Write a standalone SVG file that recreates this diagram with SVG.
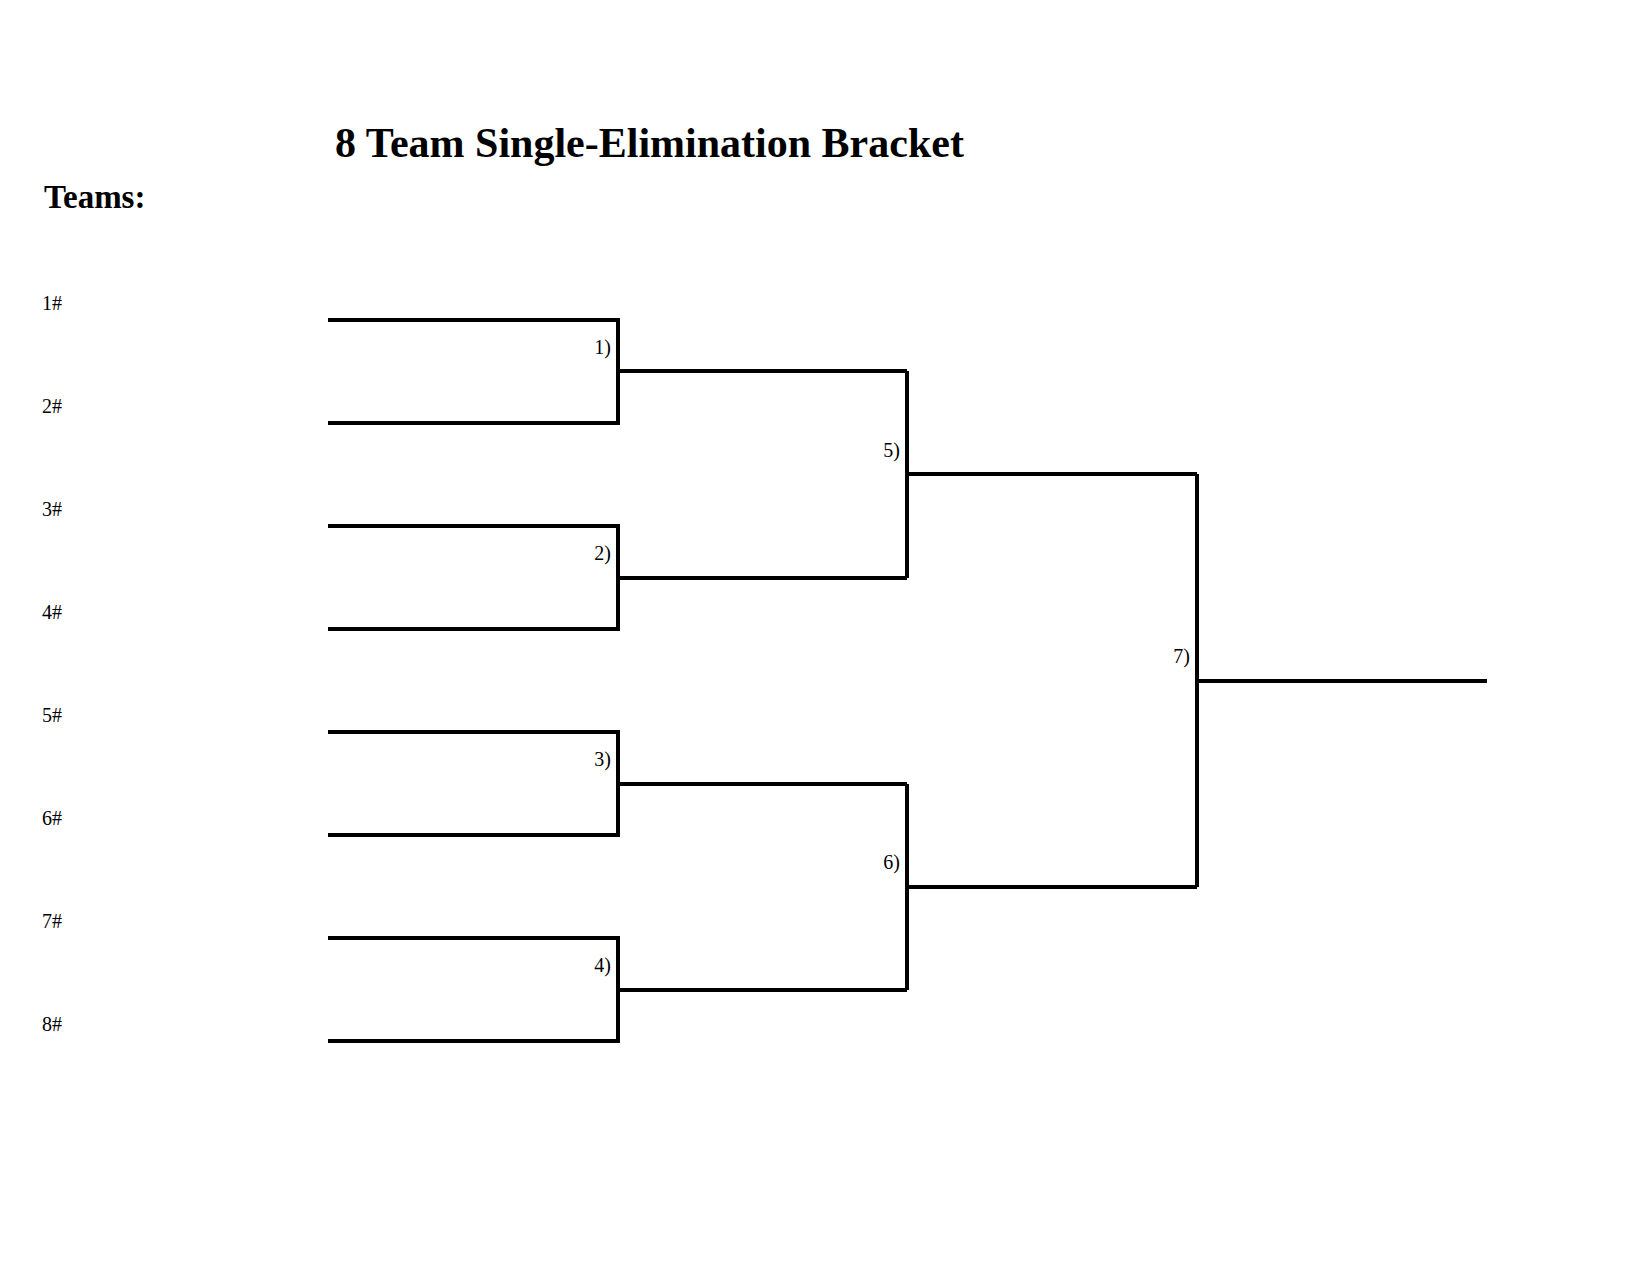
<svg xmlns="http://www.w3.org/2000/svg" width="1650" height="1275" viewBox="0 0 1650 1275">
<style>
text{font-family:"Liberation Serif","Times New Roman",serif;fill:#000}
.t{font-size:42px;font-weight:bold}
.h{font-size:33px;font-weight:bold}
.s{font-size:20px}
.m{font-size:20px;text-anchor:end}
.c{fill:none;stroke:#000;stroke-width:4}
</style>
<rect width="1650" height="1275" fill="#fff"/>
<g id="title"><text class="t" x="335" y="157">8 Team Single-Elimination Bracket</text></g>
<g id="teams-label"><text class="h" x="44" y="208">Teams:</text></g>
<g id="teams">
<text class="s" x="42" y="310">1#</text>
<text class="s" x="42" y="413">2#</text>
<text class="s" x="42" y="516">3#</text>
<text class="s" x="42" y="619">4#</text>
<text class="s" x="42" y="722">5#</text>
<text class="s" x="42" y="825">6#</text>
<text class="s" x="42" y="928">7#</text>
<text class="s" x="42" y="1031">8#</text>
</g>
<g id="connectors" class="c">
<path d="M328 320H618V423H328M618 371H907"/>
<path d="M328 526H618V629H328M618 578H907"/>
<path d="M328 732H618V835H328M618 784H907"/>
<path d="M328 938H618V1041H328M618 990H907"/>
<path d="M907 371V578M907 474H1197"/>
<path d="M907 784V990M907 887H1197"/>
<path d="M1197 474V887M1197 681H1487"/>
</g>
<g id="matches">
<text class="m" x="611" y="354">1)</text>
<text class="m" x="611" y="560">2)</text>
<text class="m" x="611" y="766">3)</text>
<text class="m" x="611" y="972">4)</text>
<text class="m" x="900" y="457">5)</text>
<text class="m" x="900" y="869">6)</text>
<text class="m" x="1190" y="663">7)</text>
</g>
</svg>
